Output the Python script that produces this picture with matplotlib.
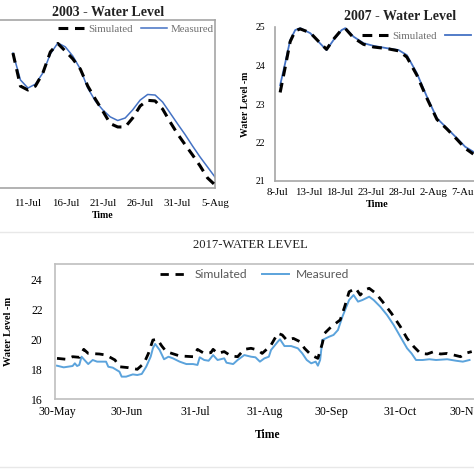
import matplotlib
matplotlib.use("Agg")
import matplotlib.pyplot as plt
from matplotlib.lines import Line2D

# ---- 2003 (day of July) ----
days_2003 = list(range(9, 37))
meas_2003 = [24.82, 23.86, 23.57, 23.71, 24.11, 24.79, 25.18, 25.04, 24.71, 24.25,
             23.57, 23.11, 22.79, 22.54, 22.41, 22.50, 22.79, 23.14, 23.34, 23.32,
             23.07, 22.68, 22.29, 21.91, 21.50, 21.11, 20.75, 20.39]
sim_2003 = [24.82, 23.64, 23.50, 23.64, 24.11, 24.86, 25.16, 24.89, 24.61, 24.25,
            23.64, 23.18, 22.75, 22.30, 22.18, 22.18, 22.50, 22.93, 23.13, 23.11,
            22.82, 22.36, 21.93, 21.55, 21.18, 20.79, 20.36, 20.11]
ticks_2003 = [11, 16, 21, 26, 31, 36]
labels_2003 = ["11-Jul", "16-Jul", "21-Jul", "26-Jul", "31-Jul", "5-Aug"]

# ---- 2007 (day of July) ----
days_2007 = [8.5, 9.3, 10.1, 10.9, 11.7, 13.3, 14.6, 15.9, 17.0, 18.3, 18.9, 20.2,
             21.8, 23.4, 25.5, 27.4, 28.7, 30.3, 31.9, 33.5, 35.1, 36.7, 38.0, 39.3]
meas_2007 = [23.49, 24.06, 24.66, 24.92, 24.97, 24.84, 24.62, 24.40, 24.66, 24.92,
             24.97, 24.75, 24.58, 24.51, 24.45, 24.40, 24.27, 23.80, 23.19, 22.63,
             22.37, 22.11, 21.89, 21.76]
sim_2007 = [23.30, 23.95, 24.62, 24.90, 24.95, 24.85, 24.63, 24.42, 24.68, 24.93,
            24.96, 24.72, 24.55, 24.48, 24.44, 24.38, 24.22, 23.75, 23.15, 22.60,
            22.35, 22.08, 21.85, 21.70]
ticks_2007 = [8, 13, 18, 23, 28, 33, 38]
labels_2007 = ["8-Jul", "13-Jul", "18-Jul", "23-Jul", "28-Jul", "2-Aug", "7-Aug"]

# ---- 2017 (days since 30-May) ----
meas_days_2017 = [0, 3, 7, 8, 9, 10, 11, 13, 14, 16, 18, 22, 23, 25, 28, 29, 31, 34, 36,
                  38, 40, 42, 43, 44, 46, 48, 50, 52, 55, 58, 61, 63, 64, 66, 68, 70,
                  72, 75, 76, 79, 81, 84, 87, 89, 91, 93, 95, 96, 99, 100, 102, 105,
                  108, 110, 112, 114, 116, 117, 118, 119, 122, 124, 126, 128, 131,
                  133, 135, 137, 140, 142, 145, 148, 151, 154, 157, 159, 161, 164,
                  167, 170, 175, 179, 182, 185]
meas_2017 = [18.22, 18.11, 18.20, 18.38, 18.20, 18.27, 18.82, 18.49, 18.33, 18.60,
             18.49, 18.49, 18.15, 18.09, 17.82, 17.49, 17.49, 17.64, 17.60, 17.67,
             18.15, 18.82, 19.38, 19.67, 19.27, 18.65, 18.82, 18.71, 18.49, 18.33,
             18.33, 18.27, 18.78, 18.60, 18.55, 18.93, 18.60, 18.71, 18.42, 18.33,
             18.60, 18.93, 18.82, 18.78, 18.49, 18.71, 18.82, 19.27, 19.82, 19.98,
             19.53, 19.53, 19.38, 19.04, 18.60, 18.38, 18.49, 18.22, 18.60, 19.93,
             20.15, 20.27, 20.60, 21.49, 22.60, 22.93, 22.49, 22.60, 22.82, 22.60,
             22.15, 21.60, 20.93, 20.15, 19.38, 19.04, 18.60, 18.60, 18.65, 18.60,
             18.65, 18.55, 18.49, 18.60]
sim_days_2017 = [0, 4, 7, 10, 12, 14, 19, 22, 26, 28, 32, 36, 39, 41, 43, 45, 47, 49,
                 55, 61, 63, 66, 69, 70, 72, 75, 78, 81, 84, 87, 90, 92, 94, 96, 99,
                 101, 103, 106, 109, 111, 114, 117, 119, 120, 123, 127, 129, 131,
                 134, 136, 138, 140, 143, 146, 150, 154, 157, 160, 163, 166, 169,
                 172, 175, 178, 181, 183, 186]
sim_2017 = [18.71, 18.65, 18.82, 18.78, 19.31, 19.04, 19.00, 18.93, 18.60, 18.15,
            18.09, 17.98, 18.38, 19.04, 19.93, 19.98, 19.53, 19.16, 18.87, 18.82,
            19.31, 19.04, 19.09, 19.31, 19.04, 19.16, 18.87, 18.82, 19.31, 19.38,
            19.27, 19.04, 19.31, 19.60, 20.38, 20.27, 19.93, 20.04, 19.82, 19.38,
            18.93, 18.71, 19.71, 20.38, 20.82, 21.27, 22.15, 23.15, 23.38, 22.93,
            23.27, 23.38, 23.04, 22.49, 21.71, 20.82, 20.04, 19.49, 19.04, 19.00,
            19.16, 19.00, 19.04, 18.93, 18.82, 19.04, 19.16]
ticks_2017 = [0, 31, 62, 93, 123, 154, 184]
labels_2017 = ["30-May", "30-Jun", "31-Jul", "31-Aug", "30-Sep", "31-Oct", "30-Nov"]

W = 474.0
SERIF = "Liberation Serif"
SPINE = "#A6A6A6"


def px_axes(fig, left, top, right, bottom):
    return fig.add_axes([left / W, 1 - bottom / W, (right - left) / W, (bottom - top) / W])


fig = plt.figure(figsize=(4.74, 4.74), dpi=100)

# ---------- 2003 ----------
ax1 = px_axes(fig, -9.5, 20, 215, 188)
ax1.plot(days_2003, meas_2003, color="#4472C4", lw=1.1, label="Measured", zorder=2)
ax1.plot(days_2003, sim_2003, color="black", lw=2.2, dashes=(3.2, 2.2), label="Simulated", zorder=3)
ax1.set_xlim(6, 36)
ax1.set_ylim(20, 26)
ax1.set_yticks([])
ax1.set_xticks(ticks_2003)
ax1.set_xticklabels(labels_2003, fontfamily=SERIF, fontsize=7.8)
ax1.tick_params(axis="x", length=0, pad=8)
for s in ax1.spines.values():
    s.set_color(SPINE)
    s.set_linewidth(1.2)
ax1.set_xlabel("Time", fontfamily=SERIF, fontsize=7, fontweight="bold", labelpad=2)
fig.text(108 / W, 1 - 12 / W, "2003 - Water Level", ha="center", va="center",
         fontfamily=SERIF, fontsize=10, fontweight="bold", color="#222222")
h, l = ax1.get_legend_handles_labels()
fig.legend(h[::-1], l[::-1], loc="center", bbox_to_anchor=(136 / W, 1 - 29 / W), ncol=2,
           frameon=False, prop={"family": SERIF, "size": 7.8}, labelcolor="#707070",
           handlelength=2.4, handletextpad=0.4, columnspacing=0.7)

# ---------- 2007 ----------
ax2 = px_axes(fig, 275, 27, 480, 181)
ax2.plot(days_2007, meas_2007, color="#4472C4", lw=1.3, label="Measured", zorder=2)
ax2.plot(days_2007, sim_2007, color="black", lw=2.2, dashes=(3.2, 2.2), label="Simulated", zorder=3)
ax2.set_xlim(7.68, 40.37)
ax2.set_ylim(21, 25)
ax2.set_yticks([21, 22, 23, 24, 25])
ax2.set_yticklabels(["21", "22", "23", "24", "25"], fontfamily=SERIF, fontsize=7)
ax2.set_xticks(ticks_2007)
ax2.set_xticklabels(labels_2007, fontfamily=SERIF, fontsize=7.8)
ax2.tick_params(length=0)
ax2.tick_params(axis="x", pad=5)
ax2.tick_params(axis="y", pad=7)
ax2.spines["top"].set_visible(False)
ax2.spines["right"].set_visible(False)
for k in ("left", "bottom"):
    ax2.spines[k].set_color(SPINE)
    ax2.spines[k].set_linewidth(1.2)
ax2.set_xlabel("Time", fontfamily=SERIF, fontsize=7.4, fontweight="bold", labelpad=2)
ax2.set_ylabel("Water Level -m", fontfamily=SERIF, fontsize=7, fontweight="bold", labelpad=4)
fig.text(400 / W, 1 - 17 / W, "2007 - Water Level", ha="center", va="center",
         fontfamily=SERIF, fontsize=10, fontweight="bold", color="#222222")
h, l = ax2.get_legend_handles_labels()
fig.legend(h[::-1], l[::-1], loc="center", bbox_to_anchor=(440 / W, 1 - 36 / W), ncol=2,
           frameon=False, prop={"family": SERIF, "size": 7.8}, labelcolor="#707070",
           handlelength=2.4, handletextpad=0.4, columnspacing=0.7)

# ---------- 2017 ----------
ax3 = px_axes(fig, 55, 264, 480, 399)
ax3.plot(meas_days_2017, meas_2017, color="#5BA3DC", lw=1.4, label="Measured", zorder=2)
ax3.plot(sim_days_2017, sim_2017, color="black", lw=2.0, dashes=(3.0, 2.4), label="Simulated", zorder=3)
ax3.set_xlim(-0.9, 189.7)
ax3.set_ylim(16, 25)
ax3.set_yticks([16, 18, 20, 22, 24])
ax3.set_yticklabels(["16", "18", "20", "22", "24"], fontfamily=SERIF, fontsize=8.4)
ax3.set_xticks(ticks_2017)
ax3.set_xticklabels(labels_2017, fontfamily=SERIF, fontsize=8.6)
ax3.tick_params(length=0)
ax3.tick_params(axis="x", pad=5)
ax3.tick_params(axis="y", pad=9)
for s in ax3.spines.values():
    s.set_color("#BFBFBF")
    s.set_linewidth(1.2)
ax3.set_xlabel("Time", fontfamily=SERIF, fontsize=8.4, fontweight="bold", labelpad=8)
ax3.set_ylabel("Water Level -m", fontfamily=SERIF, fontsize=7.5, fontweight="bold", labelpad=13)
fig.text(250 / W, 1 - 245 / W, "2017-WATER LEVEL", ha="center", va="center",
         fontfamily=SERIF, fontsize=9.1, color="#222222")
h, l = ax3.get_legend_handles_labels()
fig.legend(h[::-1], l[::-1], loc="center", bbox_to_anchor=(255 / W, 1 - 275 / W), ncol=2,
           frameon=False, prop={"family": "Lato", "size": 8.7}, labelcolor="#595959",
           handlelength=2.2, handletextpad=0.6, columnspacing=1.3)

# faint frame lines of the lower picture
for yy in (232, 467):
    fig.add_artist(Line2D([0, 1], [1 - yy / W, 1 - yy / W], color="#E8E8E8", lw=1.0,
                          transform=fig.transFigure))

fig.savefig("out.png", dpi=100)
